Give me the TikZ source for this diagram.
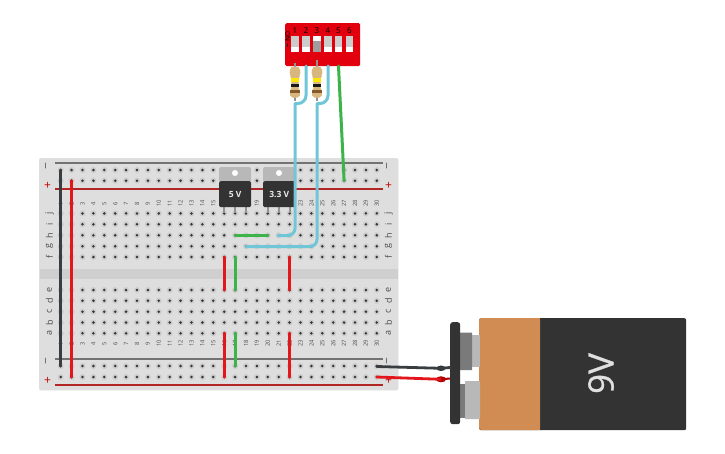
\documentclass[tikz,border=0pt]{standalone}
\usepackage{fontspec}
\usetikzlibrary{shapes.geometric}
\setmainfont{Open Sans}
\definecolor{board}{HTML}{DEDEDE}
\definecolor{band}{HTML}{CFCFCF}
\definecolor{wblue}{HTML}{6EC6D6}
\definecolor{wgreen}{HTML}{3CB44A}
\definecolor{wred}{HTML}{E3161C}
\definecolor{wblack}{HTML}{3A3D40}
\definecolor{dipred}{HTML}{E2000F}
\definecolor{tan}{HTML}{D8B77E}
\definecolor{batt}{HTML}{333333}
\definecolor{cop}{HTML}{D08C52}
\tikzset{
 wire/.style={line width=3pt,line cap=round,rounded corners=7pt},
 hole/.style={circle,fill=#1,inner sep=0pt,minimum size=2.8pt},
 halo/.style={circle,fill=#1,inner sep=0pt,minimum size=6pt},
 lab/.style={font=\fontsize{9}{9}\selectfont,text=black!70,inner sep=0pt},
 sign/.style={font=\fontsize{12}{12}\selectfont,inner sep=0pt},
 num/.style={font=\fontsize{5.8}{6}\selectfont,text=black!70,rotate=90,inner sep=0pt},
 lead/.style={line width=2.2pt,color=gray!85},
 rail/.style={line width=1.2pt},
 regtext/.style={fill=batt,rounded corners=1.5pt,minimum width=32pt,minimum height=26pt,inner sep=0pt,anchor=north west,text=black!8,font=\bfseries\fontsize{8.5}{9}\selectfont},
}
\newcommand{\colx}[1]{60.7+(#1-1)*10.9}
\newcommand{\resistor}[1]{%
 \fill[tan,rounded corners=2pt] (#1-5,68) -- (#1-2.5,66.5) -- (#1+2.5,66.5) -- (#1+5,68) -- (#1+5.5,75) -- (#1+3.6,77) -- (#1+3.6,90) -- (#1+5.5,93) -- (#1+4.5,97.5) -- (#1-4.5,97.5) -- (#1-5.5,93) -- (#1-3.6,90) -- (#1-3.6,77) -- (#1-5.5,75) -- cycle;
 \fill[yellow!90!orange] (#1-3.8,78.3) rectangle (#1+3.8,82);
 \fill[black!90] (#1-3.8,83.6) rectangle (#1+3.8,87.2);
 \fill[brown!70!black] (#1-5,89.6) rectangle (#1+5,93);
}
\begin{document}
\begin{tikzpicture}[x=1pt,y=-1pt]
\useasboundingbox (0,0) rectangle (725,453);
% breadboard
\node[draw=black!12,fill=board,rounded corners=2pt,minimum width=359pt,minimum height=232pt,inner sep=0pt,anchor=north west] (bb) at (39,158) {};
\fill[band] (39.5,269) rectangle (397.5,279);
\draw[black!13,line width=.6pt] (39.5,197) -- (397.5,197) (39.5,350) -- (397.5,350);
\draw[rail,black!55] (55,163) -- (383,163);
\draw[rail,black!55] (55,359) -- (383,359);
\draw[rail,red!65!black!85] (55,189) -- (383,189);
\draw[rail,red!65!black!85] (55,385) -- (383,385);
% holes
\foreach \r in {170,180.7,213.4,224.3,235.3,246.3,257,290,300.7,311.7,322.5,333.3,366,377}{
 \foreach \c in {1,...,30}{
  \node[halo=black!20] at ({\colx{\c}},\r) {};
  \node[hole=black!80] at ({\colx{\c}},\r) {};
 }
}
% numbers
\foreach \c in {1,...,30}{
 \node[num] at ({\colx{\c}},203.5) {\c};
 \node[num] at ({\colx{\c}},343.5) {\c};
}
% row letters
\foreach \y/\t in {213.4/j,224.3/i,235.3/h,246.3/g,257/f,290/e,300.7/d,311.7/c,322.5/b,333.3/a}{
 \node[lab,rotate=90] at (49.5,\y) {\t};
 \node[lab,rotate=90] at (388.5,\y) {\t};
}
\foreach \y in {166.5,361.5}{
 \node[sign,text=black!65,rotate=90] at (47.5,\y) {−};
 \node[sign,text=black!65,rotate=90] at (388.5,\y) {−};
}
\foreach \y in {186,381}{
 \node[sign,text=red!75!black] at (47.5,\y) {+};
 \node[sign,text=red!75!black] at (388.5,\y) {+};
}
% regulator leads
\foreach \c in {16,17,18,20,21,22}{
 \draw[lead] ({\colx{\c}},205) -- ({\colx{\c}},213.4);
}
% regulators
\fill[black!28,rounded corners=2pt] (219,167) rectangle (251,185);
\fill[black!28,rounded corners=2pt] (263,167) rectangle (295,185);
\fill[white] (235,173) circle (3pt);
\fill[white] (279,173) circle (3pt);
\node[regtext] (reg5) at (219,181) {5 V};
\node[regtext] (reg33) at (263,181) {3.3 V};
% breadboard wires
\draw[wire,wblack] (60.7,170) -- (60.7,366);
\draw[wire,wred] (71.6,180.7) -- (71.6,377);
\foreach \c/\a/\b in {16/257/290,16/333/377,22/257/290,22/333/377}{
 \draw[wire,wred] ({\colx{\c}},\a) -- ({\colx{\c}},\b);
}
\draw[wire,wgreen] ({\colx{17}},257) -- ({\colx{17}},290);
\draw[wire,wgreen] ({\colx{17}},333) -- ({\colx{17}},366);
\draw[wire,wgreen] ({\colx{17}},235.5) -- ({\colx{20}},235.5);
% DIP
\node[fill=dipred,rounded corners=1.5pt,minimum width=75pt,minimum height=43pt,inner sep=0pt,anchor=north west] (dip) at (285,23) {};
\foreach \n/\px in {1/295,2/306,3/317,4/328,5/338.5,6/349.5}{
 \fill[black!20] (\px-3.6,36) rectangle (\px+3.6,52);
 \node[font=\fontsize{8}{8}\selectfont,text=black,inner sep=0pt] at (\px,30.5) {\n};
}
\foreach \px in {295,306,328,338.5,349.5}{\fill[white] (\px-3.6,47) rectangle (\px+3.6,52);}
\fill[black!38] (317-3.6,40.5) rectangle (317+3.6,52);
\fill[white] (317-3.6,36) rectangle (317+3.6,40.5);
\node[font=\fontsize{6.5}{6}\selectfont,text=black,rotate=-90,inner sep=0pt] at (287.8,36.5) {ON};
\fill[black!85] (287.3,43) rectangle (288.3,47);
% leads and resistors
\draw[lead] (295,63) -- (295,101);
\draw[lead] (317,60) -- (317,101);
\resistor{295}
\resistor{317}
% long wires
\draw[wire,wblue,rounded corners=8pt] (306,66) -- (306,103.5) -- (295,103.5);
\draw[wire,wblue,rounded corners=8pt] (328,66) -- (328,103.5) -- (317,103.5);
\draw[wire,wblue] (295,104) -- (295,235.5) -- (278,235.5);
\draw[wire,wblue] (317,104) -- (317,246.5) -- (246,246.5);
\draw[wire,wgreen] (338.5,66) -- (344.1,180.7);
% battery
\node[fill=batt,rounded corners=2pt,minimum width=207pt,minimum height=112pt,inner sep=0pt,anchor=north west] (bat) at (479,318) {};
\fill[cop,rounded corners=2.5pt] (479,318) -- (540,318) -- (540,430) -- (479,430) -- cycle;
\fill[cop] (520,318) rectangle (540,430);
\node[rotate=90,text=black!12,font=\fontsize{35}{35}\selectfont\addfontfeature{FakeBold=0.8},inner sep=0pt] at (601,373.5) {9V};
\fill[black!28] (472,335) rectangle (480,367);
\fill[black!52,rounded corners=.5pt] (459,332.5) rectangle (472,370);
\fill[black!52] (459,384) rectangle (466,418);
\fill[black!28,rounded corners=.5pt] (465,381) rectangle (480,419);
\node[fill=batt,rounded corners=2.5pt,minimum width=10pt,minimum height=102pt,inner sep=0pt,anchor=north west] (clip) at (450,322) {};
% battery leads
\coordinate (blk) at (376.7,366.5);
\coordinate (rd) at (376.7,377);
\node[ellipse,fill=black!80,minimum width=9pt,minimum height=5.5pt,inner sep=0pt] (kb) at (441,368.3) {};
\node[ellipse,fill=red!70!black,minimum width=10pt,minimum height=6pt,inner sep=0pt] (kr) at (441,379.3) {};
\draw[wblack,line width=2.8pt,line cap=round] (blk) -- (kb.center) -- (450,367.5);
\draw[wred,line width=2.8pt,line cap=round] (rd) -- (kr.center);
\draw[red!70!black,line width=2pt] (kr.center) -- (450,378.5);
\end{tikzpicture}
\end{document}
